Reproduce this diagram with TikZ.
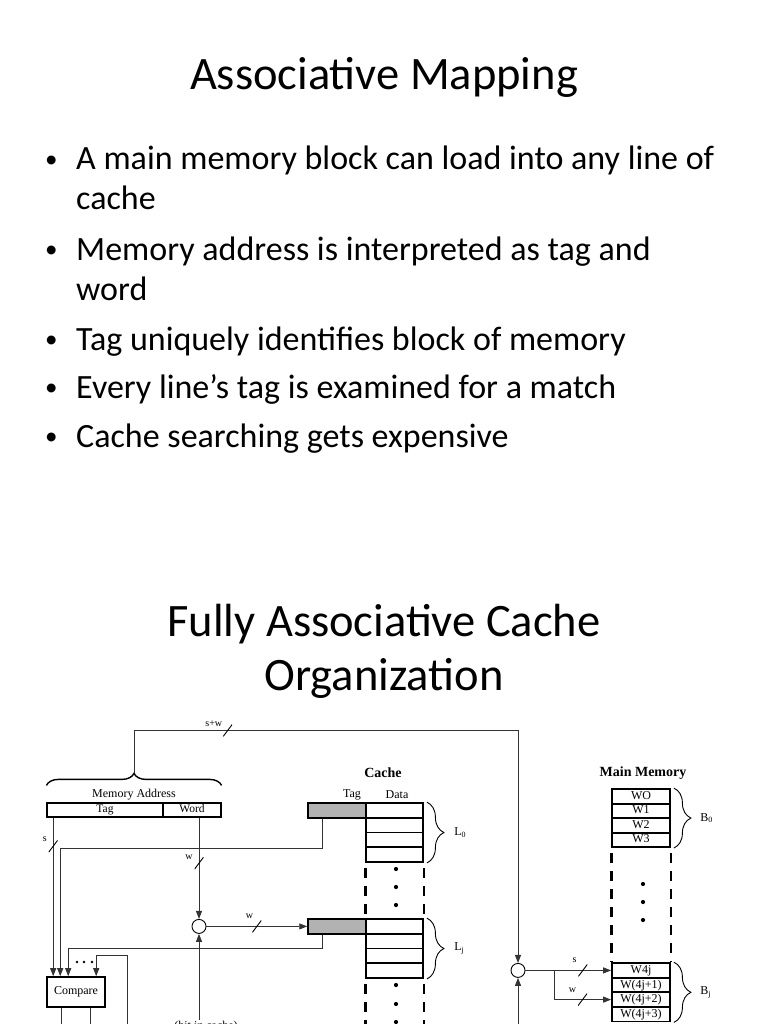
\documentclass[tikz,border=0pt]{standalone}
\usepackage{fontspec}
\setmainfont{Carlito}
\newfontfamily\tms{Liberation Serif}
\usetikzlibrary{arrows.meta,positioning,calc,decorations.pathreplacing}
\newcommand{\figfont}[1]{\tms\fontsize{#1}{#1}\selectfont}
\newcommand{\bitem}{\llap{\makebox[31pt][l]{\raisebox{2.5pt}{\fontsize{25}{25}\selectfont\textbullet}}}}

\begin{document}
\begin{tikzpicture}[x=1pt, y=-1pt, >={Triangle[length=8pt,width=6pt]},
  ttl/.style={font=\fontsize{46.5}{54}\selectfont, align=center, anchor=base, inner sep=0},
  bul/.style={font=\fontsize{34}{40}\selectfont, align=left, anchor=base west, inner sep=0},
  wire/.style={line width=0.9pt, draw=black!80},
  lbl/.style={font=\figfont{10}, inner sep=1pt},
  txt/.style={font=\figfont{12}, inner sep=1pt},
  hdr/.style={font=\figfont{14}\bfseries, inner sep=1pt},
  fld/.style={draw, line width=1.2pt, minimum height=14, inner sep=0, text height=8, text depth=2.5, font=\figfont{11.5}},
  tagbox/.style={draw, line width=1.5pt, fill=black!30, minimum width=58, minimum height=14.75, inner sep=0},
  cline/.style={draw, line width=1.8pt, minimum width=57, minimum height=14.75, inner sep=0},
  mword/.style={draw, line width=1.8pt, minimum width=58, minimum height=14.6, inner sep=0, text height=8.5, text depth=2.5, font=\figfont{12}},
  gap/.style={line width=2.8pt, dash pattern=on 10pt off 8pt, dash phase=13pt},
  jn/.style={circle, draw, line width=0.9pt, minimum size=14, inner sep=0, fill=white},
  slash/.style={inner sep=0, minimum width=9, minimum height=12,
    path picture={\draw[-, line width=0.9pt, black] (path picture bounding box.south west) -- (path picture bounding box.north east);}},
  brc/.style={decorate, decoration={brace, amplitude=#1}, line width=0.9pt},
]
\useasboundingbox[fill=white] (0,0) rectangle (768,1024);

\node[ttl] (title) at (384,90) {Associative Mapping};
\node[bul] (it1) at (76,210) {\bitem A main memory block can load into any line of\\cache};
\node[bul] (it2) at (76,300) {\bitem Memory address is interpreted as tag and\\word};
\node[bul] (it3) at (76,350) {\bitem Tag uniquely identifies block of memory};
\node[bul] (it4) at (76,398) {\bitem Every line’s tag is examined for a match};
\node[bul] (it5) at (76,447) {\bitem Cache searching gets expensive};
\node[ttl] (title2) at (384,690) {Fully Associative Cache\\Organization};

\node[fld, minimum width=116] (atag) at (105,810) {Tag};
\node[fld, minimum width=58] (aword) at (192,810) {Word};
\node[txt] (maddr) at (134,795) {Memory Address};
\draw[brc=12, line width=1.4pt] ([yshift=17]atag.north west) -- ([yshift=17]aword.north east);
\coordinate (mtip) at ($(atag.north west)!.5!(aword.north east)+(0,-29)$);

\node[draw, line width=1.6pt, minimum width=58, minimum height=30, font=\figfont{12}] (cmp) at (76,992) {Compare};
\coordinate (ci1) at ([xshift=7]cmp.north west);
\coordinate (ci2) at ([xshift=14]cmp.north west);
\coordinate (ci3) at ([xshift=22]cmp.north west);
\coordinate (ci4) at ([xshift=50]cmp.north west);
\node[jn] (jw) at (199,926.4) {};
\node[lbl, font=\figfont{12}, anchor=north] (hit) at (206,1020) {(hit in cache)};

\node[hdr] (chdr) at (383,773) {Cache};
\node[txt] (ctag) at (352,795) {Tag};
\node[txt] (cdata) at (397,795) {Data};
\foreach \i in {0,...,3} {
  \node[cline] (lz\i) at (394.5,{810.4+14.75*\i}) {};
  \node[cline] (lj\i) at (394.5,{926.4+14.75*\i}) {};
}
\node[tagbox] (t0) at (337,810.4) {};
\node[tagbox] (tj) at (337,926.4) {};
\draw[gap] (lz3.south west) -- (lj0.north west);
\draw[gap] (lz3.south east) -- (lj0.north east);
\draw[gap] (lj3.south west) -- ++(0,60);
\draw[gap] (lj3.south east) -- ++(0,60);
\foreach \y in {869,887,905,985,1004,1022} \fill (396,\y) circle (2.1);
\draw[brc=17] ([xshift=3]lz0.north east) -- ([xshift=3]lz3.south east) node[midway, right=26pt, txt, anchor=west] (lzl) {L\textsubscript{0}};
\draw[brc=17] ([xshift=3]lj0.north east) -- ([xshift=3]lj3.south east) node[midway, right=26pt, txt, anchor=west] (ljl) {L\textsubscript{j}};

\node[hdr] (mhdr) at (643,773) {Main Memory};
\foreach \t [count=\i from 0] in {WO,W1,W2,W3}
  \node[mword] (m\i) at (641,{796.3+14.5*\i}) {\t};
\foreach \t [count=\i from 0] in {W4j,W(4j+1),W(4j+2),W(4j+3)}
  \node[mword] (mj\i) at (641,{970.4+14.6*\i}) {\t};
\draw[gap] (m3.south west) -- (mj0.north west);
\draw[gap] (m3.south east) -- (mj0.north east);
\foreach \y in {884,902,920} \fill (643,\y) circle (2.1);
\draw[brc=17] ([xshift=3]m0.north east) -- ([xshift=3]m3.south east) node[midway, right=25pt, txt, anchor=west] (b0l) {B\textsubscript{0}};
\draw[brc=17] ([xshift=3]mj0.north east) -- ([xshift=3]mj3.south east) node[midway, right=25pt, txt, anchor=west] (bjl) {B\textsubscript{j}};
\node[jn] (jm) at (518,970.4) {};
\coordinate (br) at (554,970.4);
\coordinate (cm) at (127,1030);
\coordinate (mb) at (518,1030);

\draw[wire,->] (mtip) -- ++(0,-43) -| node[pos=.122, slash, label={[lbl, label distance=-1pt]150:s+w}] {} (jm.north);
\draw[wire,->] (atag.south -| ci1) -- node[pos=.18, slash, label={[lbl]150:s}] {} (ci1);
\draw[wire,->] ([xshift=15]t0.south west) -- ++(0,30) -| (ci2);
\draw[wire,->] ([xshift=15]tj.south west) -- ++(0,14) -| (ci3);
\draw[wire,->] (cm) |- ([yshift=21]ci4) -- (ci4);
\foreach \x in {77,84,92} \fill (\x,962) circle (1.4);
\draw[wire] ([xshift=-15]cmp.south) -- ++(0,30);
\draw[wire] ([xshift=14]cmp.south) -- ++(0,30);
\draw[wire,->] (aword.south -| jw) -- node[pos=.45, slash, label={[lbl]160:w}] {} (jw.north);
\draw[wire,->] (jw.east) -- node[pos=.5, slash, label={[lbl]110:w}] {} (tj.west);
\draw[wire,->] (hit.north -| jw) -- (jw.south);
\draw[wire,->] (jm.east) -- node[pos=.67, slash, label={[lbl]130:s}] {} (mj0.west);
\draw[wire,->] (br) |- node[pos=.75, slash, label={[lbl]130:w}] {} (mj2.west);
\draw[wire,->] (mb) -- (jm.south);
\end{tikzpicture}
\end{document}
